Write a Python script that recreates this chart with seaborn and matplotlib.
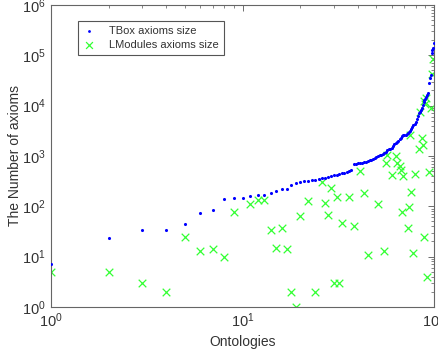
import matplotlib
matplotlib.use("Agg")
import matplotlib.pyplot as plt
import matplotlib.ticker as mticker
import numpy as np
import pandas as pd
import seaborn as sns

# TBox axioms size, one value per ontology (sorted ascending)
tbox_size = [7, 23, 34, 34, 44, 72, 85, 140, 145, 147,
             161, 166, 168, 182, 200, 219, 222, 270, 288, 302,
             320, 325, 335, 340, 350, 360, 372, 385, 400, 410,
             420, 435, 450, 465, 480, 505, 520, 680, 700, 710,
             720, 735, 750, 770, 800, 830, 840, 860, 900, 950,
             1000, 1030, 1060, 1090, 1130, 1200, 1300, 1350, 1400, 1430,
             1550, 1700, 1800, 1900, 2000, 2150, 2300, 2450, 2550, 2600,
             2650, 2700, 2800, 2950, 3200, 3500, 3800, 4100, 4400, 4800,
             5300, 6300, 7000, 7400, 8200, 9000, 10400, 12000, 13000, 13500,
             15000, 16500, 18000, 28000, 35000, 40000, 110000, 125000, 140000, 178000]
tbox_idx = list(range(1, len(tbox_size) + 1))

# LModules axioms size (ontology index, size)
lmod_idx = [1, 2, 3, 4, 5, 6, 7, 8, 9, 11, 12, 13, 14, 15, 16, 17, 18, 19, 20, 22,
            24, 26, 27, 28, 29, 30, 31, 32, 33, 36, 38, 41, 43, 45, 51, 55, 56, 57, 60, 63,
            64, 66, 67, 68, 69, 73, 74, 75, 76, 78, 79, 83, 84, 86, 87, 88, 89, 90, 91, 92,
            94, 96, 97, 99]
lmod_size = [5, 5, 3, 2, 25, 13, 14, 10, 78, 110, 134, 134, 34, 15, 37, 14, 2, 1, 64, 130,
             2, 297, 118, 67, 229, 3, 152, 3, 47, 152, 41, 510, 187, 11, 110, 13, 740, 1050, 420, 1000,
             740, 617, 515, 78, 400, 37, 96, 2630, 196, 12, 440, 1365, 7600, 2250, 1660, 24, 12500, 11000, 14000, 4,
             470, 8900, 42000, 83000]

sns.set_style("white")
plt.rcParams['font.family'] = ['Liberation Sans', 'DejaVu Sans']
plt.rcParams['mathtext.fontset'] = 'custom'
plt.rcParams['mathtext.rm'] = 'Liberation Sans'
plt.rcParams['mathtext.it'] = 'Liberation Sans'

fig = plt.figure(figsize=(4.39, 3.54), dpi=100)
ax = fig.add_axes([0.116, 0.133, 0.873, 0.853])

sns.scatterplot(x=tbox_idx, y=tbox_size, ax=ax, marker='o', color='blue',
                s=5, linewidth=0, label='TBox axioms size', zorder=3)
sns.scatterplot(x=lmod_idx, y=lmod_size, ax=ax, marker='x', color='#33ff33',
                s=30, linewidth=0.9, label='LModules axioms size', zorder=2)

ax.set_xscale('log')
ax.set_yscale('log')
ax.set_xlim(1, 100)
ax.set_ylim(1, 1e6)
ax.xaxis.set_major_locator(mticker.LogLocator(base=10, numticks=10))
ax.yaxis.set_major_locator(mticker.LogLocator(base=10, numticks=10))
ax.xaxis.set_minor_locator(mticker.LogLocator(base=10, subs=np.arange(2, 10), numticks=20))
ax.yaxis.set_minor_locator(mticker.LogLocator(base=10, subs=np.arange(2, 10), numticks=20))
ax.yaxis.set_minor_formatter(mticker.NullFormatter())
ax.xaxis.set_minor_formatter(mticker.NullFormatter())

ax.tick_params(which='both', direction='in', top=True, right=True, colors='#555555',
               labelcolor='#333333', labelsize=10.5)
ax.tick_params(which='major', length=4, width=0.6)
ax.tick_params(which='minor', length=2, width=0.5)
for sp in ax.spines.values():
    sp.set_color('#666666')
    sp.set_linewidth(0.8)

ax.set_xlabel('Ontologies', fontsize=10, color='#333333', labelpad=3)
ax.set_ylabel('The Number of axioms', fontsize=10, color='#333333', labelpad=0)

leg = ax.legend(loc='upper left', bbox_to_anchor=(0.07, 0.947), borderaxespad=0,
                fancybox=False, edgecolor='#555555', fontsize=8, framealpha=1,
                handlelength=1.2, handletextpad=1.2, borderpad=0.45,
                labelspacing=0.4, markerscale=0.9)
leg.get_frame().set_linewidth(0.8)
for t in leg.get_texts():
    t.set_color('#333333')

fig.savefig('out.png', dpi=100)
